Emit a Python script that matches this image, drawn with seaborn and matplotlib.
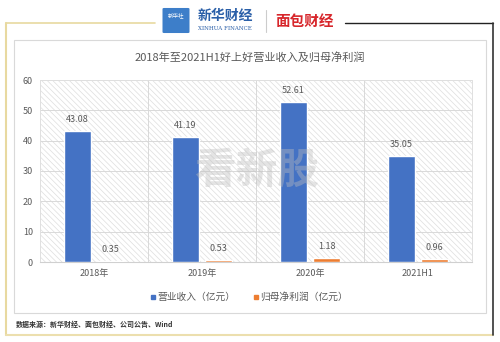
import matplotlib
matplotlib.use("Agg")
import matplotlib.pyplot as plt
import seaborn as sns
import pandas as pd
from matplotlib.patches import Rectangle, FancyBboxPatch
from matplotlib.lines import Line2D

categories = ["2018年", "2019年", "2020年", "2021H1"]
revenue = [43.08, 41.19, 52.61, 35.05]
net_profit = [0.35, 0.53, 1.18, 0.96]
series_names = ["营业收入（亿元）", "归母净利润（亿元）"]
title = "2018年至2021H1好上好营业收入及归母净利润"
source = "数据来源：新华财经、面包财经、公司公告、Wind"
yticks = [0, 10, 20, 30, 40, 50, 60]

sns.set_theme(style="white")
plt.rcParams['font.family'] = ['Noto Sans CJK SC', 'DejaVu Sans']
plt.rcParams['hatch.linewidth'] = 0.5

df = pd.DataFrame({
    "cat": categories * 2,
    "val": revenue + net_profit,
    "series": [series_names[0]] * 4 + [series_names[1]] * 4,
})

W, H = 500, 342
fig = plt.figure(figsize=(5, 3.42), dpi=100)

def fx(x):
    return x / W
def fy(y):
    return 1 - y / H

# outer frame
fig.add_artist(Line2D([fx(6), fx(155)], [fy(23), fy(23)], color='#e8d9a0', lw=1.2))
fig.add_artist(Line2D([fx(6), fx(6)], [fy(23), fy(335)], color='#e8d9a0', lw=1.5))
fig.add_artist(Line2D([fx(6), fx(493)], [fy(335), fy(335)], color='#ecdfae', lw=1.5))
fig.add_artist(Line2D([fx(345), fx(493)], [fy(23), fy(23)], color='#222222', lw=1.0))
fig.add_artist(Line2D([fx(493), fx(493)], [fy(23), fy(335)], color='#333333', lw=1.2))
# inner chart box
fig.add_artist(Rectangle((fx(14), fy(313)), fx(486) - fx(14), fy(40) - fy(313),
                         fill=False, edgecolor='#d9d9d9', lw=0.8))

# header logos (as text)
fig.add_artist(FancyBboxPatch((fx(164), fy(32)), fx(24), fy(9) - fy(32),
                              boxstyle="round,pad=0.003", facecolor='#3d7ec9', edgecolor='none'))
fig.text(fx(176), fy(15), "新华社", color='white', fontsize=4, ha='center', va='center')
fig.text(fx(225), fy(16), "新华财经", color='#2a5fa8', fontsize=10, ha='center', va='center',
         fontweight='bold', fontstyle='italic')
fig.text(fx(225), fy(29), "XINHUA FINANCE", color='#2a5fa8', fontsize=4, ha='center', va='center',
         family=['DejaVu Serif'])
fig.add_artist(Line2D([fx(266), fx(266)], [fy(10), fy(32)], color='#cccccc', lw=0.8))
fig.text(fx(305), fy(21), "面包财经", color='#d7262b', fontsize=10.5, ha='center', va='center',
         fontweight='bold')

# title
fig.text(fx(250), fy(57), title, color='#595959', fontsize=8, ha='center', va='center')

ax = fig.add_axes([fx(40), fy(262), fx(472) - fx(40), fy(80) - fy(262)])
ax.patch.set_facecolor('white')
ax.add_patch(Rectangle((0, 0), 1, 1, transform=ax.transAxes, facecolor='none',
                       edgecolor='#dedede', lw=0, hatch='\\\\\\\\\\\\', zorder=0))

palette = {series_names[0]: '#4472C4', series_names[1]: '#ED7D31'}
sns.barplot(data=df, x="cat", y="val", hue="series", palette=palette, ax=ax,
            width=0.62, gap=0.2, saturation=1, legend=False, errorbar=None, zorder=3)

ax.set_ylim(0, 60)
ax.set_xlim(-0.5, 3.5)
ax.set_yticks(yticks)
ax.set_yticklabels([str(v) for v in yticks])
ax.set_xlabel("")
ax.set_ylabel("")
for b in [0.5, 1.5, 2.5]:
    ax.axvline(b, color='#d9d9d9', lw=0.7, zorder=1)
ax.grid(axis='y', color='#d9d9d9', lw=0.7, zorder=1)
ax.set_axisbelow(True)
for s in ['top', 'right', 'left']:
    ax.spines[s].set_visible(True)
    ax.spines[s].set_color('#e0e0e0')
    ax.spines[s].set_linewidth(0.7)
ax.spines['bottom'].set_color('#d0d0d0')
ax.spines['bottom'].set_linewidth(0.8)
ax.tick_params(axis='both', length=0, labelsize=6.5, colors='#595959', pad=5)

for cont, vals in zip(ax.containers, [revenue, net_profit]):
    ax.bar_label(cont, labels=[f"{v:.2f}" for v in vals], padding=5,
                 fontsize=6.5, color='#595959')

# watermark
ax.text(0.5, 0.5, "看新股", transform=ax.transAxes, fontsize=30, color='#bdbdbd',
        alpha=0.4, ha='center', va='center', fontweight='bold', fontstyle='italic', zorder=4)

# legend
fig.add_artist(Rectangle((fx(151), fy(299)), fx(4), fy(295) - fy(299), color='#4472C4'))
fig.text(fx(157), fy(296.5), series_names[0], color='#595959', fontsize=7, ha='left', va='center')
fig.add_artist(Rectangle((fx(254), fy(299)), fx(4), fy(295) - fy(299), color='#ED7D31'))
fig.text(fx(260), fy(296.5), series_names[1], color='#595959', fontsize=7, ha='left', va='center')

# source
fig.text(fx(16), fy(324), source, color='#333333', fontsize=5, ha='left', va='center',
         fontweight='bold')

fig.savefig("out.png", dpi=100)
